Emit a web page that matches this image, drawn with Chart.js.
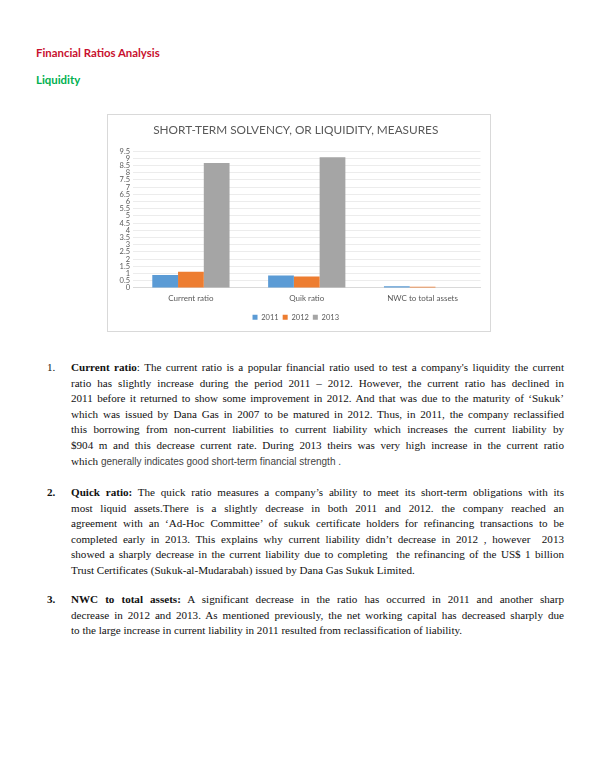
<!DOCTYPE html>
<html>
<head>
<meta charset="utf-8">
<script src="https://cdn.jsdelivr.net/npm/chart.js@4.4.1/dist/chart.umd.min.js"></script>
<style>
  html, body { margin: 0; padding: 0; background: #fff; }
  body { width: 600px; height: 776px; position: relative; overflow: hidden; }
  .head { position: absolute; left: 36px; font-family: Lato, sans-serif; font-weight: bold; font-size: 11.4px; white-space: nowrap; }
  #chartBox { position: absolute; left: 107px; top: 114px; width: 384px; height: 218px; border: 1px solid #d9d9d9; box-sizing: border-box; }
  .para { position: absolute; left: 71px; width: 493px; font-family: "Liberation Serif", "Times New Roman", serif; font-size: 11.1px; line-height: 15.6px; color: #111; }
  .para div { white-space: nowrap; text-align: justify; text-align-last: justify; }
  .para div.last { text-align-last: left; }
  .num { position: absolute; left: -24px; }
  .sans { font-family: "Liberation Sans", Arial, sans-serif; font-size: 10px; color: #444; }
</style>
</head>
<body>
<div class="head" style="top:46px;color:#c8102e;">Financial Ratios Analysis</div>
<div class="head" style="top:73px;color:#00b050;">Liquidity</div>

<div id="chartBox"><canvas id="chart"></canvas></div>

<div class="para" style="top:360px;">
  <span class="num" style="top:0">1.</span>
  <div><b>Current ratio</b>: The current ratio is a popular financial ratio used to test a company's liquidity the current</div>
  <div>ratio has slightly increase during the period 2011 – 2012. However, the current ratio has declined in</div>
  <div>2011 before it returned to show some improvement in 2012. And that was due to the maturity of ‘Sukuk’</div>
  <div>which was issued by Dana Gas in 2007 to be matured in 2012. Thus, in 2011, the company reclassified</div>
  <div>this borrowing from non-current liabilities to current liability which increases the current liability by</div>
  <div>$904 m and this decrease current rate. During 2013 theirs was very high increase in the current ratio</div>
  <div class="last">which <span class="sans">generally indicates good short-term financial strength .</span></div>
</div>

<div class="para" style="top:485px;">
  <b class="num" style="top:0">2.</b>
  <div><b>Quick ratio:</b> The quick ratio measures a company’s ability to meet its short-term obligations with its</div>
  <div>most liquid assets.There is a slightly decrease in both 2011 and 2012. the company reached an</div>
  <div>agreement with an ‘Ad-Hoc Committee’ of sukuk certificate holders for refinancing transactions to be</div>
  <div>completed early in 2013. This explains why current liability didn’t decrease in 2012 , however&nbsp; 2013</div>
  <div>showed a sharply decrease in the current liability due to completing&nbsp; the refinancing of the US$ 1 billion</div>
  <div class="last">Trust Certificates (Sukuk-al-Mudarabah) issued by Dana Gas Sukuk Limited.</div>
</div>

<div class="para" style="top:592px;">
  <b class="num" style="top:0">3.</b>
  <div><b>NWC to total assets:</b> A significant decrease in the ratio has occurred in 2011 and another sharp</div>
  <div>decrease in 2012 and 2013. As mentioned previously, the net working capital has decreased sharply due</div>
  <div class="last">to the large increase in current liability in 2011 resulted from reclassification of liability.</div>
</div>

<script>
// chart data
const categories = ['Current ratio', 'Quik ratio', 'NWC to total assets'];
const years = ['2011', '2012', '2013'];
const values2011 = [0.89, 0.87, 0.12];
const values2012 = [1.12, 0.80, 0.08];
const values2013 = [8.67, 9.07, 0.03];
const yTickValues = [0, 0.5, 1, 1.5, 2, 2.5, 3, 3.5, 4, 4.5, 5, 5.5, 6, 6.5, 7, 7.5, 8, 8.5, 9, 9.5];
const yTickLabels = ['0', '0.5', '1', '1.5', '2', '2.5', '3', '3.5', '4', '4.5', '5', '5.5', '6', '6.5', '7', '7.5', '8', '8.5', '9', '9.5'];

const colors = ['#5b9bd5', '#ed7d31', '#a5a5a5'];
const textGray = '#595959';

const ctx = document.getElementById('chart').getContext('2d');
new Chart(ctx, {
    type: 'bar',
    data: {
        labels: categories,
        datasets: [values2011, values2012, values2013].map((vals, i) => ({
            label: years[i],
            data: vals,
            backgroundColor: colors[i],
            borderWidth: 0,
            categoryPercentage: 0.667,
            barPercentage: 1.0
        }))
    },
    options: {
        responsive: true,
        maintainAspectRatio: false,
        animation: false,
        layout: { padding: { left: 3, right: 9.5, top: 0, bottom: 0 } },
        plugins: {
            title: {
                display: true,
                text: 'SHORT-TERM SOLVENCY, OR LIQUIDITY, MEASURES',
                color: textGray,
                font: { family: 'Lato', size: 11.8, weight: 'normal' },
                padding: { top: 8, bottom: 14 }
            },
            legend: {
                position: 'bottom',
                labels: {
                    boxWidth: 5,
                    boxHeight: 5,
                    padding: 4,
                    color: textGray,
                    font: { family: 'Lato', size: 7.5 }
                }
            },
            tooltip: { enabled: false }
        },
        scales: {
            x: {
                grid: { display: false, drawTicks: false },
                border: { display: true, color: '#d9d9d9', width: 1 },
                ticks: { color: textGray, font: { family: 'Lato', size: 8 }, padding: 6 }
            },
            y: {
                min: 0,
                max: 9.5,
                afterBuildTicks: (scale) => { scale.ticks = yTickValues.map(v => ({ value: v })); },
                afterFit: (scale) => { scale.width = 22; },
                grid: { color: '#e6e6e6', lineWidth: 0.75, drawTicks: false },
                border: { display: false },
                ticks: {
                    autoSkip: false,
                    padding: 3,
                    color: textGray,
                    font: { family: 'Lato', size: 7.5, lineHeight: 1 },
                    callback: (v) => yTickLabels[yTickValues.indexOf(v)]
                }
            }
        }
    }
});
</script>
</body>
</html>
